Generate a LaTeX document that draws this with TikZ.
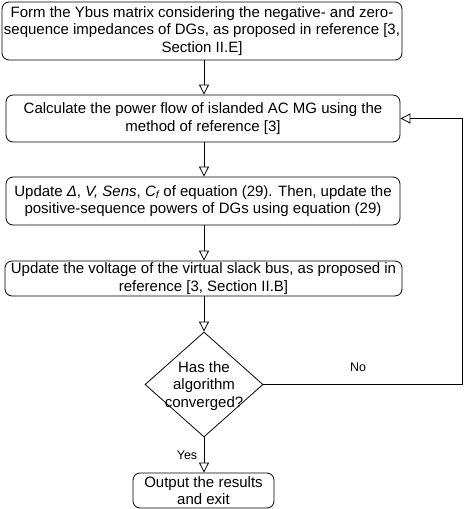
\documentclass[tikz,border=0pt]{standalone}
\usepackage{fontspec}
\setmainfont{Liberation Sans}
\usetikzlibrary{arrows.meta,shapes.geometric}
\begin{document}
\begin{tikzpicture}[x=1pt,y=-1pt,
  txt/.style={font=\fontsize{15}{17.5}\selectfont},
  box/.style={draw,thick,rounded corners=7pt,align=center,inner sep=0pt,txt},
  dec/.style={draw,thick,diamond,inner sep=0pt},
  flow/.style={draw,thick,-{Triangle[open,width=10pt,length=10pt]}},
  lbl/.style={font=\fontsize{12.5}{14}\selectfont}]
\useasboundingbox (0,0) rectangle (474,509);
\node[box,minimum width=400pt,minimum height=58pt] (b1) at (202,31)
  {Form the Ybus matrix considering the negative- and zero-\\sequence impedances of DGs, as proposed in reference [3,\\Section II.E]};
\node[box,minimum width=394pt,minimum height=47pt] (b2) at (203,118.5)
  {Calculate the power flow of islanded AC MG using the\\method of reference [3]};
\node[box,minimum width=394pt,minimum height=48pt] (b3) at (203,201)
  {Update \textit{Δ}, \textit{V, Sens}, \textit{C\textsubscript{f}} of equation (29). Then, update the\\positive-sequence powers of DGs using equation (29)};
\node[box,minimum width=397pt,minimum height=35pt] (b4) at (203.5,278.5)
  {Update the voltage of the virtual slack bus, as proposed in\\reference [3, Section II.B]};
\node[dec,minimum width=118pt,minimum height=105pt] (d) at (204,384.5) {};
\node[txt,align=center,inner sep=0pt] (dt) at (204,386) {Has the\\algorithm\\converged?};
\node[box,minimum width=141pt,minimum height=35pt] (b5) at (203.5,490.5)
  {Output the results\\and exit};
\coordinate (r) at (462,384.5);
\draw[flow] (b1.south -| 204,0) -- (b2.north -| 204,0);
\draw[flow] (b2.south -| 204,0) -- (b3.north -| 204,0);
\draw[flow] (b3.south -| 204,0) -- (b4.north -| 204,0);
\draw[flow] (b4.south -| 204,0) -- (d.north);
\draw[flow] (d.south) -- (b5.north -| d.south);
\draw[flow] (d.east) -- (r) |- (b2.east);
\node[lbl] (no) at (358,367) {No};
\node[lbl] (yes) at (187,455) {Yes};
\end{tikzpicture}
\end{document}
